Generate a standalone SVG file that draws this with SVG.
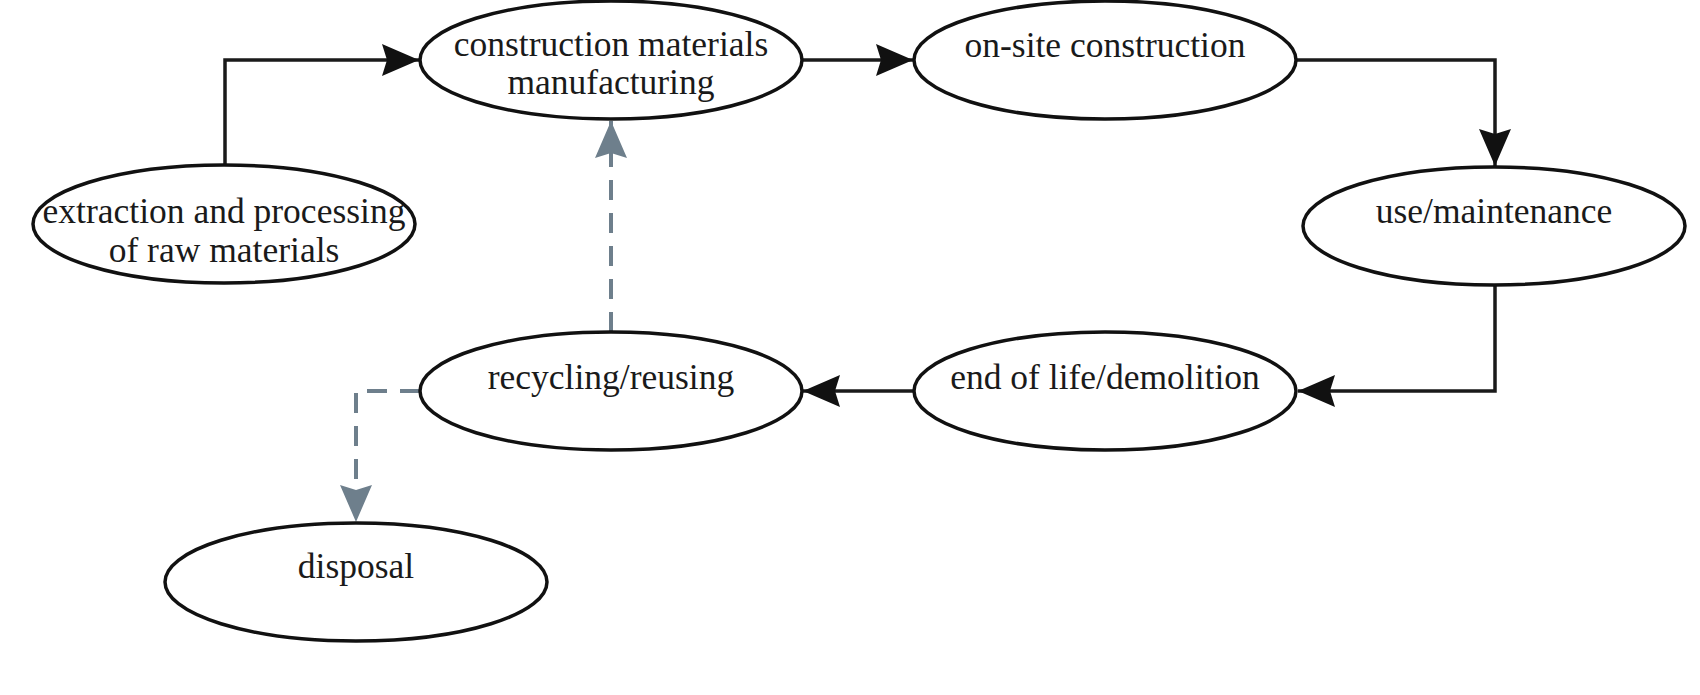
<svg xmlns="http://www.w3.org/2000/svg" width="1700" height="695" viewBox="0 0 1700 695">
<style>
  .node ellipse { fill: #ffffff; stroke: #111111; stroke-width: 3.5; }
  .node text { font-family: "Liberation Serif", "Times New Roman", serif; font-size: 35.5px; fill: #1a1a1a; text-anchor: middle; }
  .flow { fill: none; stroke: #1a1a1a; stroke-width: 3.5; }
  .loop { fill: none; stroke: #6e7f8c; stroke-width: 4; stroke-dasharray: 20 13; }
</style>
<defs>
  <marker id="arrowBlack" markerUnits="userSpaceOnUse" markerWidth="38" markerHeight="32" refX="37" refY="16" orient="auto">
    <path d="M0,0 L37,16 L0,32 L5,16 Z" fill="#111111"/>
  </marker>
  <marker id="arrowGray" markerUnits="userSpaceOnUse" markerWidth="38" markerHeight="32" refX="37" refY="16" orient="auto">
    <path d="M0,0 L37,16 L0,32 L5,16 Z" fill="#6e7f8c"/>
  </marker>
</defs>
<rect width="1700" height="695" fill="#ffffff"/>
<g id="connectors">
  <path class="flow" d="M225,165 V60 H419" marker-end="url(#arrowBlack)"/>
  <path class="flow" d="M802,60 H913" marker-end="url(#arrowBlack)"/>
  <path class="flow" d="M1296,60 H1495 V166" marker-end="url(#arrowBlack)"/>
  <path class="flow" d="M1495,285 V391 H1298" marker-end="url(#arrowBlack)"/>
  <path class="flow" d="M914,391 H803" marker-end="url(#arrowBlack)"/>
  <path class="loop" d="M611,332 V121" marker-end="url(#arrowGray)"/>
  <path class="loop" d="M420,391 H356 V522" marker-end="url(#arrowGray)"/>
</g>
<g id="extraction" class="node">
  <ellipse cx="224" cy="224" rx="191" ry="59"/>
  <text x="224" y="223">extraction and processing</text>
  <text x="224" y="262">of raw materials</text>
</g>
<g id="manufacturing" class="node">
  <ellipse cx="611" cy="60" rx="191" ry="59"/>
  <text x="611" y="56">construction materials</text>
  <text x="611" y="94">manufacturing</text>
</g>
<g id="onsite" class="node">
  <ellipse cx="1105" cy="60" rx="191" ry="59"/>
  <text x="1105" y="57">on-site construction</text>
</g>
<g id="use" class="node">
  <ellipse cx="1494" cy="226" rx="191" ry="59"/>
  <text x="1494" y="223">use/maintenance</text>
</g>
<g id="endoflife" class="node">
  <ellipse cx="1105" cy="391" rx="191" ry="59"/>
  <text x="1105" y="389">end of life/demolition</text>
</g>
<g id="recycling" class="node">
  <ellipse cx="611" cy="391" rx="191" ry="59"/>
  <text x="611" y="389">recycling/reusing</text>
</g>
<g id="disposal" class="node">
  <ellipse cx="356" cy="582" rx="191" ry="59"/>
  <text x="356" y="578">disposal</text>
</g>
</svg>
